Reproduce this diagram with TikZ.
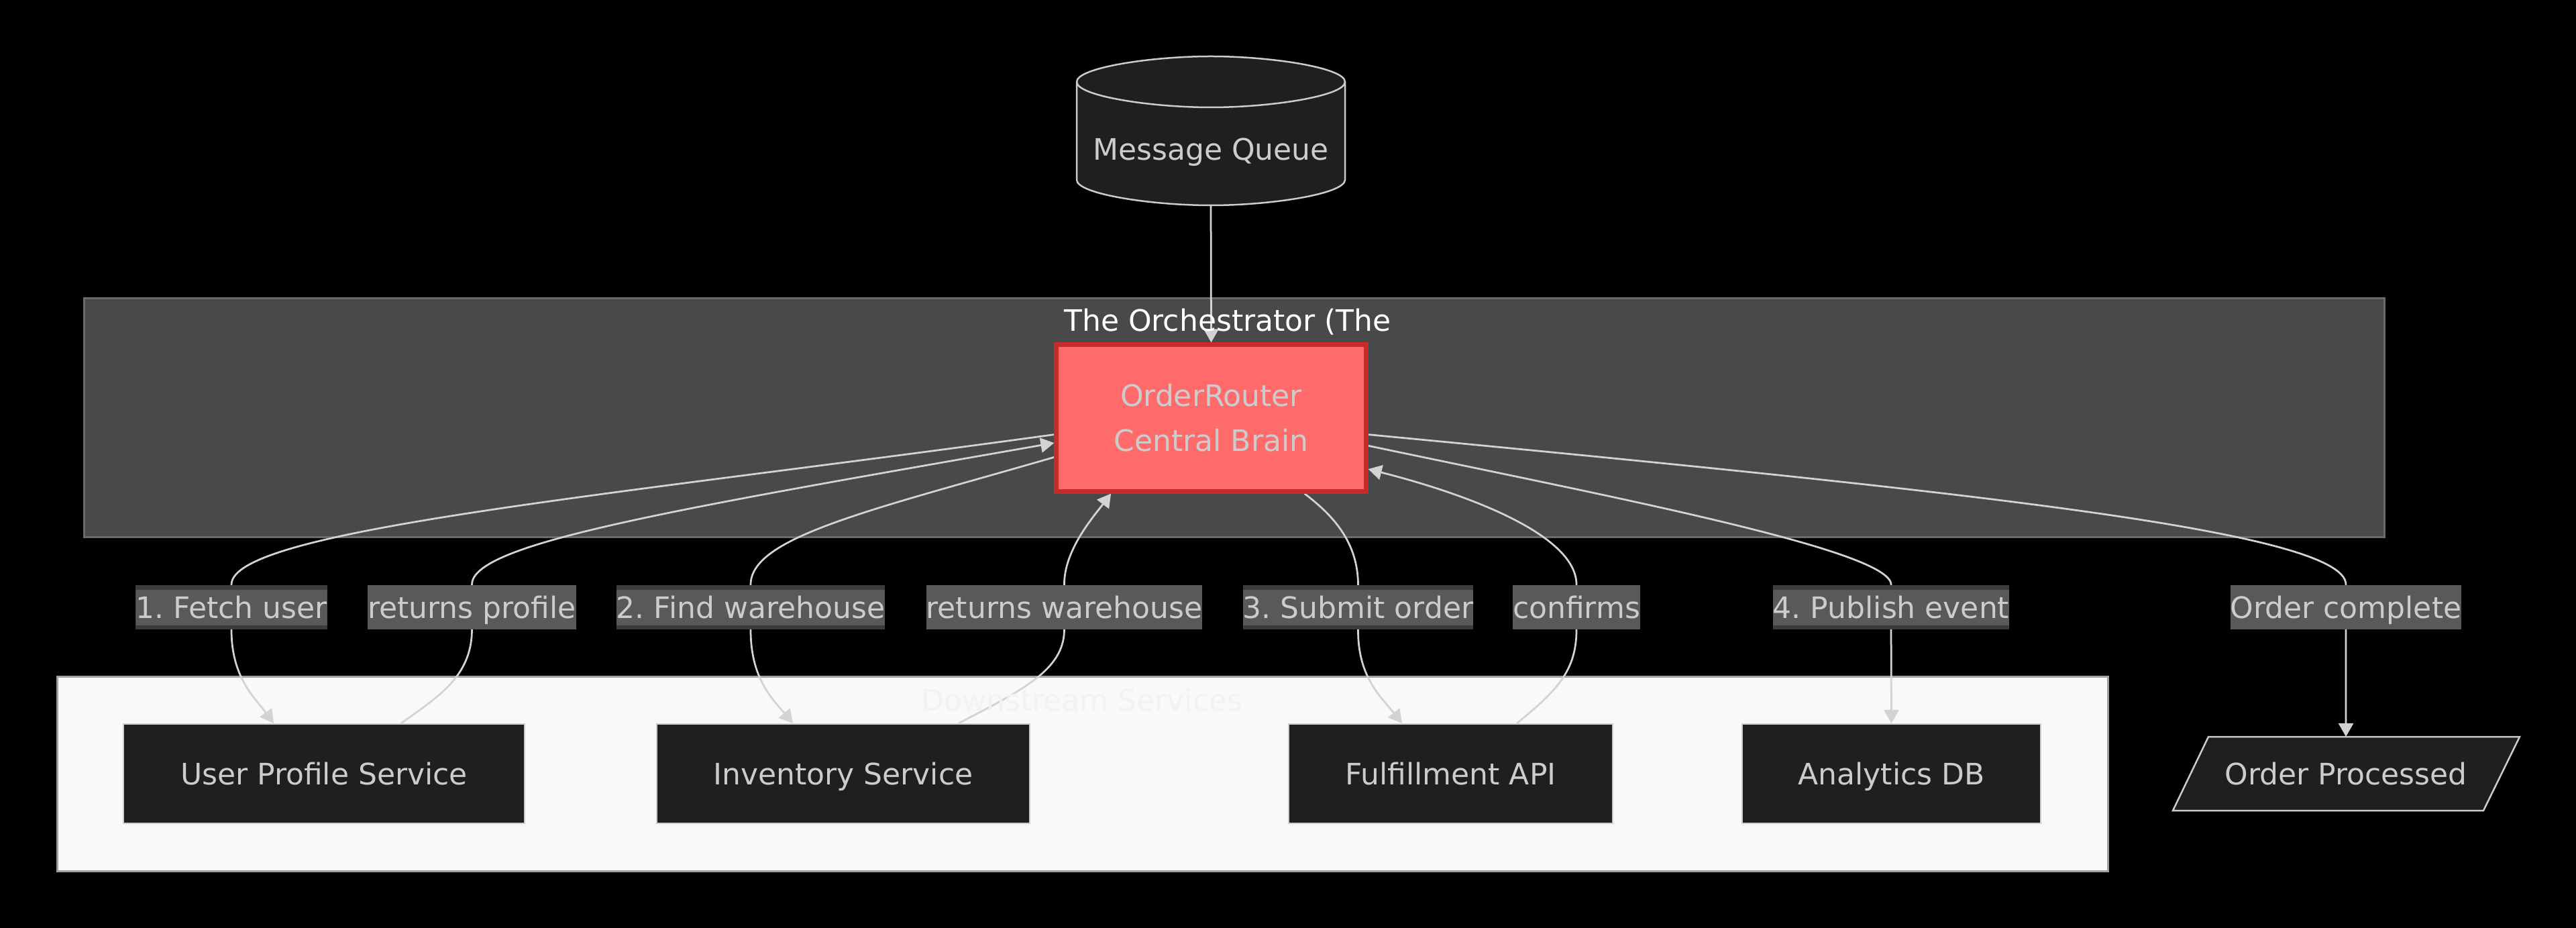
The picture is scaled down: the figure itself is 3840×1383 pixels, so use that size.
\documentclass[tikz,border=0pt]{standalone}
\usepackage{fontspec}
\setmainfont{DejaVu Sans}
\frenchspacing
\usetikzlibrary{arrows.meta}
\definecolor{orchfill}{HTML}{484A49}
\definecolor{orchline}{HTML}{6A6A6A}
\definecolor{svcfill}{HTML}{F8F9FA}
\definecolor{svcline}{HTML}{A0A0A0}
\definecolor{svctitle}{HTML}{F1F2F4}
\definecolor{nodefill}{HTML}{1F1F1F}
\definecolor{nodeline}{HTML}{CCCCCC}
\definecolor{nodetext}{HTML}{CCCCCC}
\definecolor{brainfill}{HTML}{FF6B6B}
\definecolor{brainline}{HTML}{C92A2A}
\definecolor{edgecol}{HTML}{D3D3D3}
\definecolor{lblbg}{HTML}{595959}
\definecolor{lblstrip}{HTML}{3C3C3C}
\pgfdeclarelayer{bg}
\pgfdeclarelayer{edgelayer}
\pgfsetlayers{bg,edgelayer,main}
\tikzset{
  every node/.style={font=\fontsize{12.52pt}{15pt}\selectfont, text=nodetext},
  svcbox/.style={draw=nodeline, fill=nodefill, line width=0.02cm, minimum height=1.48cm,
    text height=0.36cm, text depth=0.04cm, inner sep=0pt},
  lbl/.style={fill=lblbg, inner xsep=0pt, inner ysep=0pt, minimum height=0.66cm,
    text height=0.36cm, text depth=0.04cm, text=nodetext},
  lblS/.style={lbl, fill=lblstrip, path picture={\fill[lblbg]
    ([yshift=-0.07cm]path picture bounding box.north west) rectangle
    ([yshift=0.06cm]path picture bounding box.south east);}},
  edge/.style={draw=edgecol, line width=0.0275cm, -{Triangle[length=0.2cm,width=0.22cm]}},
}
\begin{document}
\begin{tikzpicture}[x=0.01cm, y=-0.01cm]
\useasboundingbox (0,0) rectangle (3840,1383);

% background and clusters
\begin{pgfonlayer}{bg}
\fill[black] (0,0) rectangle (3840,1383);
\filldraw[fill=orchfill, draw=orchline, line width=0.03cm] (125,445) rectangle (3554,801);
\filldraw[fill=svcfill, draw=svcline, line width=0.03cm] (85,1008) rectangle (3142,1298);
\end{pgfonlayer}
\node[text=white, text height=0.36cm, text depth=0.04cm, inner sep=0pt] (orchtitle) at (1830,477) {The Orchestrator (The};
\node[text=svctitle, text height=0.36cm, text depth=0.04cm, inner sep=0pt] (svctitle) at (1613,1043) {Downstream Services};

% message queue cylinder
\fill[nodefill] (1605,122) -- (1605,268) .. controls (1605,289) and (1715,306) .. (1805,306)
  .. controls (1895,306) and (2005,289) .. (2005,268) -- (2005,122)
  .. controls (2005,101) and (1895,84) .. (1805,84)
  .. controls (1715,84) and (1605,101) .. (1605,122) -- cycle;
\draw[nodeline, line width=0.025cm] (1605,122) -- (1605,268) .. controls (1605,289) and (1715,306) .. (1805,306)
  .. controls (1895,306) and (2005,289) .. (2005,268) -- (2005,122)
  .. controls (2005,101) and (1895,84) .. (1805,84)
  .. controls (1715,84) and (1605,101) .. (1605,122) -- cycle;
\draw[nodeline, line width=0.025cm] (1605,122) .. controls (1605,143) and (1715,160) .. (1805,160)
  .. controls (1895,160) and (2005,143) .. (2005,122);
\node[minimum width=4.0cm, minimum height=2.22cm, inner sep=0pt, outer sep=0pt,
  text height=0.9cm, text depth=0.04cm] (mq) at (1805,195) {Message Queue};

% central brain
\node[draw=brainline, fill=brainfill, line width=0.07cm, minimum width=4.61cm, minimum height=2.18cm,
  align=center, font=\fontsize{12.52pt}{19.07pt}\selectfont, inner sep=0pt] (or) at (1805.5,623)
  {OrderRouter\\Central Brain};

% services
\node[svcbox, minimum width=5.98cm] (up) at (483,1153) {User Profile Service};
\node[svcbox, minimum width=5.56cm] (inv) at (1257,1153) {Inventory Service};
\node[svcbox, minimum width=4.83cm] (ful) at (2162.5,1153) {Fulfillment API};
\node[svcbox, minimum width=4.45cm] (ana) at (2819.5,1153) {Analytics DB};

% order processed (parallelogram)
\filldraw[fill=nodefill, draw=nodeline, line width=0.025cm]
  (3292,1098) -- (3756,1098) -- (3702,1208) -- (3239,1208) -- cycle;
\node[minimum height=1.1cm, inner sep=0pt, outer sep=0pt, text height=0.36cm, text depth=0.04cm]
  (op) at (3497,1153) {Order Processed};

% edge labels
\node[lblS] (l1) at (345,905) {1. Fetch user};
\node[lbl]  (l2) at (703.5,905) {returns profile};
\node[lblS] (l3) at (1119,905) {2. Find warehouse};
\node[lbl]  (l4) at (1586.5,905) {returns warehouse};
\node[lblS] (l5) at (2024.5,905) {3. Submit order};
\node[lbl]  (l6) at (2350,905) {confirms};
\node[lblS] (l7) at (2819,905) {4. Publish event};
\node[lbl]  (l8) at (3497,905) {Order complete};

% edges
\begin{pgfonlayer}{edgelayer}
\draw[edge] (mq.south) -- (or.north);
\draw[edge] (or.186.8) .. controls (900,740) and (345,790) .. (l1.north) -- (l1.south)
  .. controls (345,1010) and (380,1040) .. ([xshift=-0.75cm]up.north);
\draw[edge] ([xshift=1.15cm]up.north) .. controls (650,1040) and (703,1010) .. (l2.south) -- (l2.north)
  .. controls (703,810) and (1000,760) .. (or.189.7);
\draw[edge] (or.194.4) .. controls (1300,760) and (1119,800) .. (l3.north) -- (l3.south)
  .. controls (1119,1010) and (1150,1040) .. ([xshift=-0.75cm]inv.north);
\draw[edge] ([xshift=1.72cm]inv.north) .. controls (1520,1030) and (1586,1000) .. (l4.south) -- (l4.north)
  .. controls (1586,820) and (1630,770) .. (or.217.6);
\draw[edge] (or.-39.4) .. controls (1990,770) and (2024,810) .. (l5.north) -- (l5.south)
  .. controls (2024,1010) and (2060,1040) .. ([xshift=-0.725cm]ful.north);
\draw[edge] ([xshift=0.985cm]ful.north) .. controls (2320,1030) and (2350,1000) .. (l6.south) -- (l6.north)
  .. controls (2350,800) and (2200,740) .. (or.-18.2);
\draw[edge] (or.-10.2) .. controls (2400,740) and (2819,820) .. (l7.north) -- (l7.south) -- (ana.north);
\draw[edge] (or.-6.1) .. controls (2900,730) and (3497,790) .. (l8.north) -- (l8.south) -- (op.north);
\end{pgfonlayer}
\end{tikzpicture}
\end{document}
